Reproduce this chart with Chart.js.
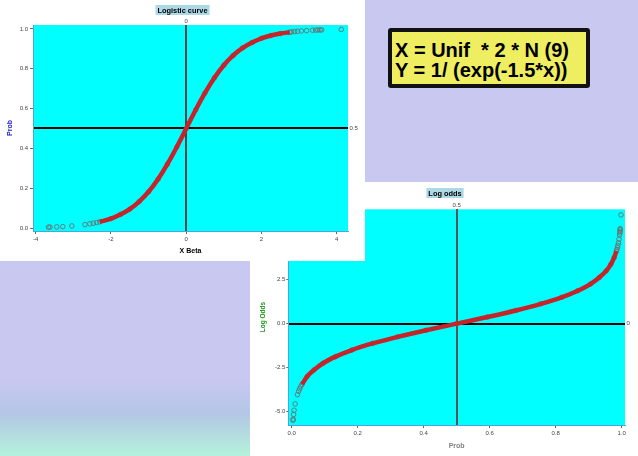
<!DOCTYPE html>
<html>
<head>
<meta charset="utf-8">
<script src="https://cdn.jsdelivr.net/npm/chart.js@4/dist/chart.umd.min.js"></script>
<style>
  html, body { margin: 0; padding: 0; }
  body {
    width: 638px; height: 456px; position: relative; overflow: hidden;
    background: #fff; font-family: "Liberation Sans", Arial, sans-serif;
  }
  .panel { position: absolute; }
  #lavTop { left: 365px; top: 0; width: 273px; height: 182px; background: #c8c8f0; }
  #lavBottom {
    left: 0; top: 261px; width: 250px; height: 195px;
    background: linear-gradient(to bottom, #c8c8f0 0%, #c8c8f0 62%, #b4c6e6 78%, #b4f2da 100%);
  }
  #formula {
    left: 388px; top: 28px; width: 191px; height: 44px;
    border: 4px solid #111; border-radius: 3px; background: #eeee60;
    font-weight: bold; font-size: 20px; line-height: 20px; color: #000;
    padding: 8px 0 0 3px; box-sizing: content-box; white-space: pre;
  }
  #box1 { left: 0; top: 0; width: 365px; height: 261px; background: #fff; z-index: 3; }
  #box2 { left: 250px; top: 183px; width: 388px; height: 273px; background: #fff; z-index: 2; }
</style>
</head>
<body>
<div class="panel" id="lavTop"></div>
<div class="panel" id="lavBottom"></div>
<div class="panel" id="formula">X = Unif  * 2 * N (9)
Y = 1/ (exp(-1.5*x))</div>
<div class="panel" id="box1"><canvas id="logisticChart"></canvas></div>
<div class="panel" id="box2"><canvas id="logOddsChart"></canvas></div>

<script>
// dense middle part of the curve (drawn as the red line)
const curveX = [-2.3, -2.0, -1.75, -1.5, -1.25, -1.0, -0.75, -0.5, -0.25, 0, 0.25, 0.5, 0.75, 1.0, 1.25, 1.5, 1.75, 2.0, 2.25, 2.5, 2.75];
const curveProb = [0.031, 0.047, 0.068, 0.095, 0.133, 0.182, 0.245, 0.321, 0.407, 0.5, 0.593, 0.679, 0.755, 0.818, 0.867, 0.905, 0.932, 0.953, 0.967, 0.977, 0.984];
const curveLogOdds = [-3.45, -3.0, -2.625, -2.25, -1.875, -1.5, -1.125, -0.75, -0.375, 0, 0.375, 0.75, 1.125, 1.5, 1.875, 2.25, 2.625, 3.0, 3.375, 3.75, 4.125];

// sparse observations at both tails (open circles)
const tailX = [-3.66, -3.62, -3.44, -3.28, -3.04, -2.69, -2.56, -2.47, -2.38, 2.8, 2.88, 2.96, 3.06, 3.2, 3.36, 3.44, 3.5, 3.56, 3.6, 4.12];
const tailProb = [0.0041, 0.0044, 0.0057, 0.0072, 0.0104, 0.0174, 0.0211, 0.0240, 0.0274, 0.9852, 0.9869, 0.9883, 0.9900, 0.9918, 0.9936, 0.9943, 0.9948, 0.9952, 0.9955, 0.9979];
const tailLogOdds = [-5.49, -5.43, -5.16, -4.92, -4.56, -4.035, -3.84, -3.705, -3.57, 4.2, 4.32, 4.44, 4.59, 4.8, 5.04, 5.16, 5.25, 5.34, 5.4, 6.18];

// tick labels
const xBetaTicks = [-4, -2, 0, 2, 4];
const probTicks = [0, 0.2, 0.4, 0.6, 0.8, 1.0];
const logOddsTicks = [-5, -2.5, 0, 2.5, 5];
const refXBeta = [0];
const refProb = [0.5];
const refLogOdds = [0];

Chart.defaults.font.family = '"Liberation Sans", Arial, sans-serif';
Chart.defaults.color = '#444';

const toPts = (xs, ys) => xs.map((x, i) => ({ x: x, y: ys[i] }));
const setTicks = arr => scale => { scale.ticks = arr.map(v => ({ value: v })); };

const plotFill = {
    id: 'plotFill',
    beforeDraw(chart) {
        const { ctx, chartArea: a } = chart;
        ctx.save();
        ctx.fillStyle = '#00ffff';
        ctx.fillRect(a.left, a.top, a.right - a.left, a.bottom - a.top);
        ctx.restore();
    }
};

const titleBox = {
    id: 'titleBox',
    afterDraw(chart, args, opts) {
        const ctx = chart.ctx;
        ctx.save();
        ctx.font = 'bold 7.4px "Liberation Sans", Arial, sans-serif';
        const w = ctx.measureText(opts.text).width;
        const cx = opts.cx;
        ctx.fillStyle = '#add8e6';
        ctx.fillRect(cx - w / 2 - 2, opts.y - 5, w + 4, 10);
        ctx.fillStyle = '#000';
        ctx.textAlign = 'center';
        ctx.textBaseline = 'middle';
        ctx.fillText(opts.text, cx, opts.y + 0.5);
        ctx.restore();
    }
};

function buildChart(id, cfg) {
    return new Chart(document.getElementById(id), {
        type: 'scatter',
        data: {
            datasets: [
                {
                    data: cfg.curve,
                    showLine: true,
                    borderColor: '#c4242a',
                    borderWidth: 4.5,
                    cubicInterpolationMode: 'monotone',
                    pointRadius: 0,
                    order: 0
                },
                {
                    data: cfg.points,
                    showLine: false,
                    pointRadius: 2.3,
                    pointBorderWidth: 0.9,
                    pointBorderColor: '#6e6e6e',
                    pointBackgroundColor: 'rgba(0,0,0,0)',
                    order: 1
                }
            ]
        },
        options: {
            responsive: true,
            maintainAspectRatio: false,
            animation: false,
            events: [],
            layout: { padding: 0 },
            plugins: {
                legend: { display: false },
                tooltip: { enabled: false },
                titleBox: cfg.title
            },
            scales: {
                x: {
                    type: 'linear', position: 'bottom', min: cfg.xMin, max: cfg.xMax,
                    afterBuildTicks: setTicks(cfg.xTicks),
                    afterFit: s => { s.height = cfg.bottomH; },
                    ticks: { font: { size: 6 }, padding: 1.5, callback: cfg.xFmt },
                    grid: { drawOnChartArea: false, tickLength: 3, color: '#666' },
                    border: { color: '#4aa8d8' },
                    title: { display: true, text: cfg.xTitle, color: cfg.xTitleColor,
                             font: { size: 7, weight: 'bold' }, padding: { top: 0, bottom: cfg.xTitlePad } }
                },
                xTop: {
                    type: 'linear', position: 'top', min: cfg.xMin, max: cfg.xMax,
                    afterBuildTicks: setTicks(cfg.xRef),
                    afterFit: s => { s.height = cfg.topH; },
                    ticks: { font: { size: 6 }, padding: 0.5 },
                    grid: { drawTicks: false, color: cfg.vColor, lineWidth: 2 },
                    border: { display: false }
                },
                y: {
                    type: 'linear', position: 'left', min: cfg.yMin, max: cfg.yMax,
                    afterBuildTicks: setTicks(cfg.yTicks),
                    afterFit: s => { s.width = cfg.leftW; },
                    ticks: { font: { size: 6 }, padding: cfg.yPad, callback: v => v.toFixed(1) },
                    grid: { drawOnChartArea: false, tickLength: cfg.yTick, color: '#666' },
                    border: { color: '#4aa8d8' },
                    title: { display: true, text: cfg.yTitle, color: cfg.yTitleColor,
                             font: { size: cfg.yTitleSize, weight: 'bold' }, padding: { top: cfg.yTitlePad, bottom: 0 } }
                },
                yRight: {
                    type: 'linear', position: 'right', min: cfg.yMin, max: cfg.yMax,
                    afterBuildTicks: setTicks(cfg.yRef),
                    afterFit: s => { s.width = cfg.rightW; },
                    ticks: { font: { size: 6 }, padding: 1.5 },
                    grid: { drawTicks: false, color: '#000', lineWidth: 2 },
                    border: { display: false }
                }
            }
        },
        plugins: [plotFill, titleBox]
    });
}

buildChart('logisticChart', {
    curve: toPts(curveX, curveProb),
    points: toPts(tailX.concat(curveX), tailProb.concat(curveProb)),
    title: { text: 'Logistic curve', cx: 182.5, y: 10 },
    xMin: -4.072, xMax: 4.30, xTicks: xBetaTicks, xRef: refXBeta, xFmt: v => String(v),
    yMin: -0.015, yMax: 1.02, yTicks: probTicks, yRef: refProb,
    bottomH: 30, topH: 25, leftW: 33, rightW: 17,
    yPad: 2, yTick: 3,
    vColor: '#4e4444',
    xTitle: 'X Beta', xTitleColor: '#000', xTitlePad: 5.8,
    yTitle: 'Prob', yTitleColor: '#1a1acc', yTitleSize: 7, yTitlePad: 5.8
});

buildChart('logOddsChart', {
    curve: toPts(curveProb, curveLogOdds),
    points: toPts(tailProb.concat(curveProb), tailLogOdds.concat(curveLogOdds)),
    title: { text: 'Log odds', cx: 195, y: 10 },
    xMin: -0.0103, xMax: 1.010, xTicks: probTicks, xRef: refProb, xFmt: v => v.toFixed(1),
    yMin: -5.76, yMax: 6.5, yTicks: logOddsTicks, yRef: refLogOdds,
    bottomH: 31, topH: 26.3, leftW: 38.3, rightW: 13,
    yPad: 1, yTick: 2,
    vColor: '#555',
    xTitle: 'Prob', xTitleColor: '#808080', xTitlePad: 6,
    yTitle: 'Log Odds', yTitleColor: '#1a9a1a', yTitleSize: 6.5, yTitlePad: 9
});
</script>
</body>
</html>
